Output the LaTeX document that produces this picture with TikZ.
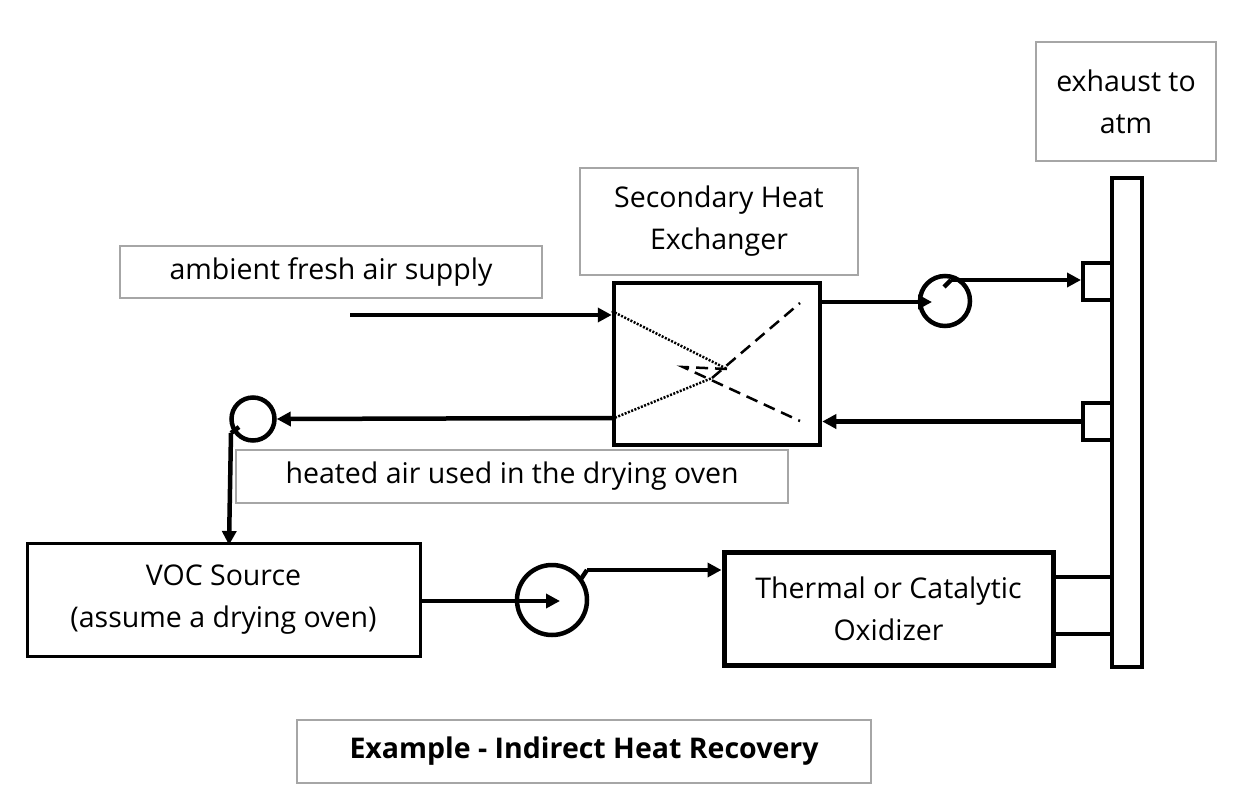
\documentclass[tikz,border=0pt]{standalone}
\usepackage{fontspec}
\setmainfont{Open Sans}
\usetikzlibrary{arrows.meta}
\begin{document}
\begin{tikzpicture}[x=1pt,y=-1pt,
  lbl/.style={draw=black!35,line width=2.5pt,inner sep=0pt,align=center,font=\fontsize{28.5}{42}\selectfont},
  box/.style={draw,line width=3pt,inner sep=0pt,align=center,font=\fontsize{28.5}{42}\selectfont},
  flow/.style={line width=4.5pt,-{Triangle[length=14pt,width=14pt]}},
  pipe/.style={line width=4.5pt},
  fan/.style={circle,draw,line width=4.5pt,inner sep=0pt},
  dsh/.style={line width=2.5pt,dash pattern=on 12pt off 7pt},
  dot/.style={line width=2.5pt,dash pattern=on 2pt off 1.5pt}]
\useasboundingbox (0,0) rectangle (1239,811);
\node[lbl,minimum width=180pt,minimum height=119pt] (exh) at (1126,101.5) {exhaust to\\atm};
\node[draw,line width=4pt,minimum width=30pt,minimum height=489pt,inner sep=0pt] (stack) at (1127,422.5) {};
\node[lbl,minimum width=278pt,minimum height=107pt] (shx) at (719,221.5) {Secondary Heat\\Exchanger};
\node[box,line width=4.5pt,minimum width=206pt,minimum height=162pt] (hx) at (717,364) {};
\node[lbl,minimum width=422pt,minimum height=52pt] (amb) at (331,272) {ambient fresh air supply};
\node[lbl,minimum width=552pt,minimum height=53pt] (hot) at (512,476.5) {heated air used in the drying oven};
\node[box,minimum width=393pt,minimum height=113pt] (voc) at (223.5,599.5) {VOC Source\\(assume a drying oven)};
\node[box,line width=5pt,minimum width=329pt,minimum height=113pt] (ox) at (888.5,608.5) {Thermal or Catalytic\\Oxidizer};
\node[lbl,minimum width=574pt,minimum height=63pt,font=\fontsize{28.5}{42}\selectfont\bfseries] (title) at (584,751.5) {Example - Indirect Heat Recovery};
% inlet squares
\node[draw,line width=4pt,minimum width=29pt,minimum height=37pt,inner sep=0pt] (sq1) at (1097.5,281.5) {};
\node[draw,line width=4pt,minimum width=29pt,minimum height=37pt,inner sep=0pt] (sq2) at (1097.5,421.5) {};
% fans
\node[fan,minimum size=50pt] (f1) at (945,301) {};
\node[fan,minimum size=43pt] (f2) at (253,419) {};
\node[fan,minimum size=70pt] (f3) at (552,600) {};
% HX internals
\draw[dot] (hx.west|-0,311) -- (727,369);
\draw[dsh] (727,369) -- (683,367) -- (800,421);
\draw[dot] (hx.west|-0,419) -- (712,378);
\draw[dsh] (712,378) -- (800,303);
% flows
\coordinate (a0) at (350,315);
\coordinate (o1) at (951,280);
\coordinate (o2) at (231,433);
\coordinate (o3) at (587,570);
\draw[flow] (a0) -- (hx.west|-a0);
\draw[flow] (hx.east|-0,302) -- (932,302);
\draw[flow] (o1) -- (sq1.west|-o1);
\draw[pipe] (o1) -- (944,287);
\draw[flow] (sq2.west) -- (hx.east|-sq2);
\draw[flow] (hx.west|-0,418) -- (f2.east);
\draw[flow] (o2) -- (229,545);
\draw[pipe] (o2) -- (239,427);
\draw[flow] (voc.east|-0,601) -- (560,601);
\draw[flow] (o3) -- (ox.west|-o3);
\draw[pipe] (o3) -- (581,579);
\draw[pipe] (ox.east|-0,577) -- (stack.west|-0,577);
\draw[pipe] (ox.east|-0,634) -- (stack.west|-0,634);
\end{tikzpicture}
\end{document}
